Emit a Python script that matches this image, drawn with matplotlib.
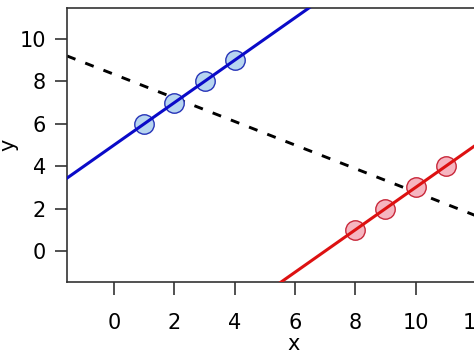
import numpy as np
import matplotlib
matplotlib.use("Agg")
import matplotlib.pyplot as plt

# ==============================
# data
# ==============================
x_blue = [1, 2, 3, 4]
y_blue = [6, 7, 8, 9]
x_red = [8, 9, 10, 11]
y_red = [1, 2, 3, 4]
x_ticks = [0, 2, 4, 6, 8, 10, 12]
y_ticks = [0, 2, 4, 6, 8, 10]

# ==============================
# fits (per group and pooled)
# ==============================
b_blue = np.polyfit(x_blue, y_blue, 1)
b_red = np.polyfit(x_red, y_red, 1)
b_all = np.polyfit(x_blue + x_red, y_blue + y_red, 1)

# axes run past the right edge of the saved picture
xlim = (-1.56, 13.5)
ylim = (-1.46, 11.46)
xx = np.array([xlim[0], xlim[1] + 1])

fig = plt.figure(figsize=(4.74, 3.55), dpi=100)
ax = fig.add_axes([0.1414, 0.2056, 0.958, 0.7718])

ax.plot(xx, np.polyval(b_all, xx), color="black", lw=2.1,
        linestyle=(0, (3.1, 3.6)), zorder=1)
ax.scatter(x_blue, y_blue, s=14**2, facecolor="#b7d5f0",
           edgecolor="#2633b8", linewidth=1.0, zorder=2)
ax.scatter(x_red, y_red, s=14**2, facecolor="#f6b5c0",
           edgecolor="#c8283a", linewidth=1.0, zorder=2)
ax.plot(xx, np.polyval(b_blue, xx), color="#0a0ac8", lw=2.2, zorder=3)
ax.plot(xx, np.polyval(b_red, xx), color="#dd1111", lw=2.2, zorder=3)

ax.set_xlim(xlim)
ax.set_ylim(ylim)
ax.set_xticks(x_ticks)
ax.set_yticks(y_ticks)
for s in ax.spines.values():
    s.set_color("#333333")
    s.set_linewidth(1.2)
ax.tick_params(axis="x", length=9, width=1.2, color="#333333",
               pad=13, labelsize=15)
ax.tick_params(axis="y", length=9, width=1.2, color="#333333",
               pad=6, labelsize=15)
ax.set_xlabel("x", fontsize=15, labelpad=1)
ax.set_ylabel("y", fontsize=15, labelpad=1)

fig.savefig("out.png", dpi=100)
